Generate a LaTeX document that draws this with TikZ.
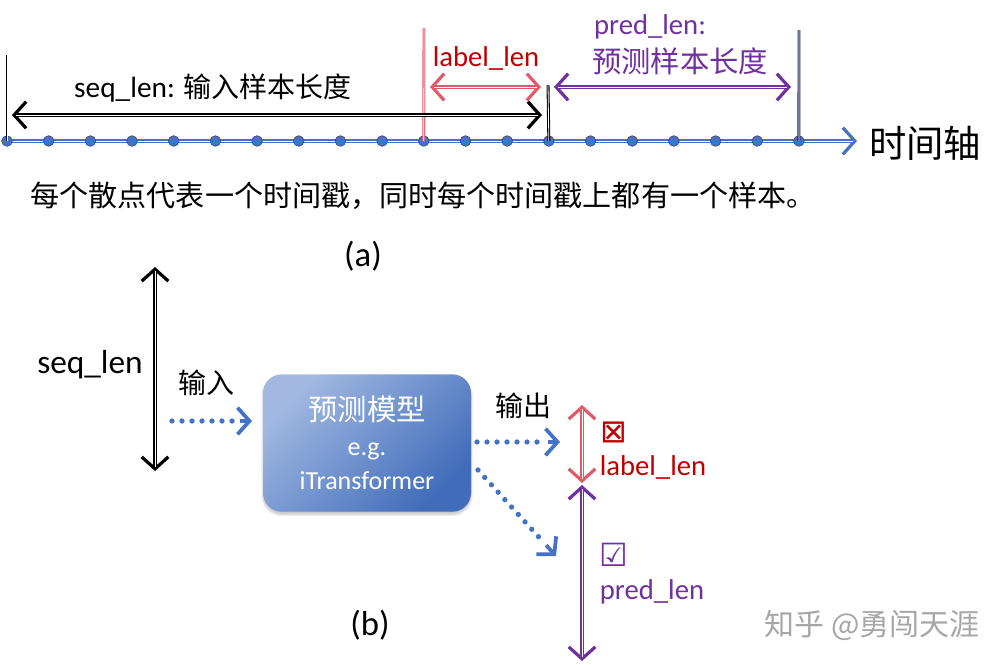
\documentclass[tikz,border=0pt]{standalone}
\usepackage{fontspec}
\setmainfont{Carlito}
\newfontfamily\cjk{Noto Sans CJK SC}
\newfontfamily\dvs{DejaVu Sans}
\usetikzlibrary{arrows.meta,shadows.blur,calc}
\definecolor{tl}{HTML}{4472C4}
\definecolor{rd}{HTML}{E05A6A}
\definecolor{rdt}{HTML}{C00000}
\definecolor{pp}{HTML}{7030A0}
\definecolor{nv}{HTML}{1F2A60}
\tikzset{
 tipx/.tip={Straight Barb[length=9pt,width=20pt,line width=2.4pt]},
 dbl/.style={line width=2.4pt,-tipx,
   postaction={draw=white,line width=0.7pt,shorten >=3pt,-}},
 dbll/.style={line width=2.4pt,tipx-tipx,
   postaction={draw=white,line width=0.7pt,shorten >=3pt,shorten <=3pt,-}},
 vl/.style={line width=2.2pt,postaction={draw=white,line width=0.6pt}},
 dot/.style={circle,fill=tl,draw=tl!60!black,line width=0.4pt,inner sep=0pt,minimum size=8pt},
 dotline/.style={tl,line width=4pt,dash pattern=on 0pt off 7.5pt,line cap=round},
 dottip/.style={tl,line width=2.8pt,solid,-{Straight Barb[length=9pt,width=20pt,line width=2.8pt]}},
 txt/.style={inner sep=0pt},
}
\begin{document}
\begin{tikzpicture}[x=0.75pt,y=-0.75pt]
\useasboundingbox (0,0) rectangle (1006,664);
% timeline
\coordinate (t0) at (3,141);
\coordinate (t1) at (857,141);
\draw[tl,dbl] (t0) -- (t1);
\foreach \i in {0,...,19}{\node[dot] (d\i) at ({7+\i*41.68},141) {};}
% verticals
\coordinate (v0) at (7,55);
\coordinate (v1) at (424,28);
\coordinate (v2) at (548,85);
\coordinate (v3) at (799,30);
\draw[black,vl] (v0) -- (d0.center);
\draw[rd,vl] (v1) -- (d10.center);
\draw[black,vl] (v2) -- (d13.center);
\draw[nv,vl] (v3) -- (d19.center);
% arrows
\coordinate (s0) at (12,115); \coordinate (s1) at (542,115);
\draw[black,dbll] (s0) -- (s1);
\coordinate (l0) at (430,87); \coordinate (l1) at (541,87);
\draw[rd,dbll] (l0) -- (l1);
\coordinate (p0) at (554,87); \coordinate (p1) at (791,87);
\draw[pp,dbll] (p0) -- (p1);
\node[txt,font=\fontsize{22}{26}\selectfont] (seq) at (213,88) {seq\_len: {\cjk\fontsize{21}{26}\selectfont 输入样本长度}};
\node[txt,rdt,font=\fontsize{21.5}{26}\selectfont] (lab) at (486,58) {label\_len};
\node[txt,pp,font=\fontsize{21.5}{26}\selectfont] (pl) at (650,27) {pred\_len:};
\node[txt,pp,font=\cjk\fontsize{22}{26}\selectfont] (pl2) at (680,61) {预测样本长度};
\node[txt,font=\cjk\fontsize{28}{32}\selectfont] (axis) at (925,143) {时间轴};
\node[txt,font=\cjk\fontsize{21.8}{26}\selectfont] (cap) at (423,196) {每个散点代表一个时间戳，同时每个时间戳上都有一个样本。};
\node[txt,font=\fontsize{26}{30}\selectfont] (a) at (363,256) {(a)};
% part b
\coordinate (b0) at (155,267); \coordinate (b1) at (155,471);
\draw[black,dbll] (b0) -- (b1);
\node[txt,font=\fontsize{25}{30}\selectfont] (sl) at (90,365) {seq\_len};
\node[txt,font=\cjk\fontsize{21}{26}\selectfont] (in) at (206,383) {输入};
\node[draw=none,rounded corners=14pt,minimum width=156pt,minimum height=103pt,
  left color=tl!50!white,right color=tl!95!black,shading angle=45,
  blur shadow={shadow blur steps=8,shadow xshift=0pt,shadow yshift=-2pt,shadow opacity=25},
  text=white,align=center,font=\fontsize{19.5}{26}\selectfont] (box) at (367,443)
  {{\cjk\fontsize{22}{26}\selectfont 预测模型}\\e.g.\\iTransformer};
\coordinate (ia) at (172,421);
\coordinate (ib) at (252,421);
\draw[dotline] (ia) -- ($(ib)+(-14,0)$);
\draw[dottip] ($(ib)+(-12,0)$) -- (ib);
\node[txt,font=\cjk\fontsize{21}{26}\selectfont] (out) at (523,406) {输出};
\coordinate (oa0) at (477,442);
\coordinate (oa) at (560,442);
\draw[dotline] (oa0) -- ($(oa)+(-14,0)$);
\draw[dottip] ($(oa)+(-12,0)$) -- (oa);
\coordinate (da0) at (478,470); \coordinate (da1) at (556,556);
\draw[dotline] (da0) -- ($(da1)!14pt!(da0)$);
\draw[dottip] ($(da1)!11pt!(da0)$) -- (da1);
\coordinate (r0) at (582,405); \coordinate (r1) at (582,483);
\draw[rd,dbll] (r0) -- (r1);
\coordinate (q0) at (582,485); \coordinate (q1) at (582,661);
\draw[pp,dbll] (q0) -- (q1);
\node[txt,rdt,font=\dvs\fontsize{24}{28}\selectfont] (x1) at (614,432) {⊠};
\node[txt,rdt,font=\fontsize{21.5}{26}\selectfont] (ll) at (653,467) {label\_len};
\node[txt,pp,font=\dvs\fontsize{24}{28}\selectfont] (c1) at (614,555) {☑};
\node[txt,pp,font=\fontsize{21.5}{26}\selectfont] (pl3) at (652,592) {pred\_len};
\node[txt,font=\fontsize{26}{30}\selectfont] (b) at (370,625) {(b)};
\node[txt,gray!70,font=\cjk\fontsize{22.5}{26}\selectfont] (wm) at (872,625) {知乎 @勇闯天涯};
\end{tikzpicture}
\end{document}
